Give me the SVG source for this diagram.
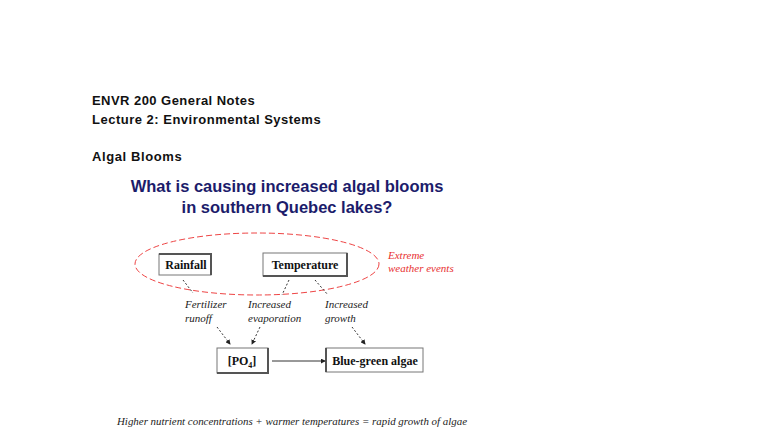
<svg xmlns="http://www.w3.org/2000/svg" width="784" height="441" viewBox="0 0 784 441">
<defs>
<style>
.hdr{font-family:"Liberation Sans",Arial,sans-serif;font-size:13px;font-weight:bold;fill:#111;}
.ttl{font-family:"Liberation Sans",Arial,sans-serif;font-size:16.5px;font-weight:bold;fill:#1c1c6b;text-anchor:middle;}
.box{fill:#fff;stroke:#777;stroke-width:1;}
.shd{fill:none;stroke:#555;stroke-width:2;}
.lbl{font-family:"Liberation Serif","Times New Roman",serif;font-size:12px;font-weight:bold;fill:#111;text-anchor:middle;}
.it{font-family:"Liberation Serif","Times New Roman",serif;font-size:11px;font-style:italic;fill:#222;}
.red{font-family:"Liberation Serif","Times New Roman",serif;font-size:11px;font-style:italic;fill:#e83030;}
.dot{fill:none;stroke:#333;stroke-width:1;stroke-dasharray:2 2;}
</style>
<marker id="ah" viewBox="0 0 6 6" refX="5" refY="3" markerWidth="5" markerHeight="5" orient="auto">
<path d="M0,0 L6,3 L0,6 z" fill="#222"/>
</marker>
</defs>
<rect width="784" height="441" fill="#fff"/>
<g id="header">
<text class="hdr" x="92" y="105" letter-spacing="0.45">ENVR 200 General Notes</text>
<text class="hdr" x="92" y="124" letter-spacing="0.5">Lecture 2: Environmental Systems</text>
<text class="hdr" x="92" y="161" letter-spacing="0.6">Algal Blooms</text>
</g>
<g id="title">
<text class="ttl" x="287" y="192">What is causing increased algal blooms</text>
<text class="ttl" x="287" y="213">in southern Quebec lakes?</text>
</g>
<g id="extreme">
<ellipse cx="257" cy="264" rx="122" ry="31" fill="none" stroke="#ee4444" stroke-width="1" stroke-dasharray="6 3"/>
<text class="red" x="388" y="259">Extreme</text>
<text class="red" x="388" y="272">weather events</text>
</g>
<g id="rainfall">
<rect class="box" x="159" y="254" width="52" height="21"/>
<path class="shd" d="M159,254 H211 V275"/>
<text class="lbl" x="186" y="269">Rainfall</text>
</g>
<g id="temperature">
<rect class="box" x="263" y="253" width="84" height="23"/>
<path class="shd" d="M263,276 H347 V253" stroke-width="1.5"/>
<text class="lbl" x="305" y="269">Temperature</text>
</g>
<g id="po4">
<rect class="box" x="217" y="348" width="51" height="25"/>
<path class="shd" d="M217,373 H268 V348"/>
<text class="lbl" x="242" y="365">[PO<tspan font-size="8" dy="3">4</tspan><tspan dy="-3">]</tspan></text>
</g>
<g id="bluegreen">
<rect class="box" x="326" y="348" width="97" height="24"/>
<path class="shd" d="M326,348 V372" stroke-width="1.5"/>
<text class="lbl" x="375" y="365">Blue-green algae</text>
</g>
<g id="labels">
<text class="it" x="185" y="308">Fertilizer</text>
<text class="it" x="185" y="322">runoff</text>
<text class="it" x="248" y="308">Increased</text>
<text class="it" x="248" y="322">evaporation</text>
<text class="it" x="325" y="308">Increased</text>
<text class="it" x="325" y="322">growth</text>
</g>
<g id="connectors">
<path class="dot" d="M183,280 L193,293"/>
<path class="dot" d="M217,327 L230,344" marker-end="url(#ah)"/>
<path class="dot" d="M289,280 L282,295"/>
<path class="dot" d="M260,327 L252,344" marker-end="url(#ah)"/>
<path class="dot" d="M315,280 L328,295"/>
<path class="dot" d="M352,327 L365,344" marker-end="url(#ah)"/>
<path d="M272,361 L325,361" fill="none" stroke="#333" stroke-width="1" marker-end="url(#ah)"/>
</g>
<g id="footer">
<text class="it" x="117" y="425" font-size="10.5" textLength="350" lengthAdjust="spacingAndGlyphs">Higher nutrient concentrations + warmer temperatures = rapid growth of algae</text>
</g>
</svg>
